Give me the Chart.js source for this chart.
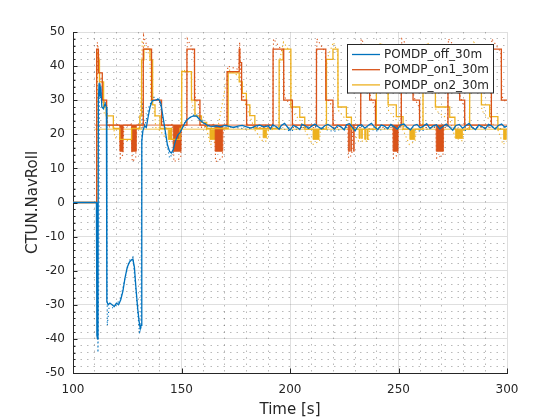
<!DOCTYPE html>
<html><head><meta charset="utf-8">
<script src="https://cdn.jsdelivr.net/npm/chart.js@4.4.1/dist/chart.umd.min.js"></script>
<style>html,body{margin:0;padding:0;background:#fff;}#wrap{width:560px;height:420px;}</style>
</head><body><div id="wrap"><canvas id="c" width="560" height="420"></canvas></div>
<script>
// ---- labels / ticks ----
const seriesNames = ['POMDP_off_30m', 'POMDP_on1_30m', 'POMDP_on2_30m'];
const xTickLabels = [100, 150, 200, 250, 300];
const yTickLabels = [-50, -40, -30, -20, -10, 0, 10, 20, 30, 40, 50];
const xTitle = 'Time [s]';
const yTitle = 'CTUN.NavRoll';

// ---- POMDP_off_30m NavRoll (solid) [t, value] ----
const offRoll = [[100,0],[110.8,0],[111.0,-39],[111.3,-40],[111.5,-37],[111.7,30],[112.0,35],[112.4,31],[112.8,34],[113.3,28],[114.0,27.5],[114.8,29],[115.4,28],[115.6,-29],[116.2,-30],[117,-29.5],[118,-30],[119,-30.5],[120,-29.5],[121,-30],[122,-28.5],[123,-26],[124,-22],[125,-19],[126,-17.5],[127,-16.8],[127.6,-16.6],[128.3,-19],[129,-25],[129.8,-31],[130.5,-35],[131,-37],[131.4,-36],[131.7,18],[132.2,21],[133,22.5],[133.8,22],[134.6,25],[135.5,28],[136.5,29.8],[138,30],[139.5,30.3],[140.5,29],[141.5,25],[142.5,21],[143.5,17],[144.5,15],[145.3,14.5],[146.2,15.5],[147.2,18],[148.3,19.8],[149.3,20.5],[150.5,22],[151.5,23.3],[152.5,24.2],[154,25],[155.5,25.4],[157,25.3],[158.5,24.2],[160,23.4],[161.5,22.8],[163,22.4],[164.5,22.3],
[166,22.5],[168,22.2],[170,22.6],[172,22.3],[174,22.0],[176,22.4],[178,22.6],[180,22.2],[182,21.8],[184,22.4],[186,22.7],[188,22.2],[190,22.5],[191,21.6],[192,22.8],[193.5,22.3],[195,21.5],[196,22.6],[197.5,23.2],[199,22.0],[200,21.2],[201.5,22.6],[203,22.2],[204.5,21.4],[205.5,22.9],[207,22.5],[208.5,21.7],[210,22.4],[211.5,23.0],[213,22.2],[214.5,21.6],[216,22.5],[217.5,22.9],[219,22.3],[220.5,21.5],[222,22.6],[223.5,22.2],[225,21.3],[226,22.8],[227.5,23.1],[229,21.9],[230,21.0],[231.5,22.5],[233,22.8],[234.5,21.8],[236,22.6],[237.5,23.2],[239,22.1],[240.5,21.4],[242,22.7],[243.5,22.4],[245,21.6],[246.5,22.9],[248,22.2],[249.5,21.5],[251,22.8],[252.5,23.0],[254,22.0],[255.5,21.3],[257,22.6],[258.5,22.9],[260,21.9],[261.5,22.4],[263,23.1],[264.5,21.7],[266,22.5],[267.5,22.8],[269,21.6],[270.5,22.3],[272,23.0],[273.5,22.1],[275,21.2],[276.5,22.6],[278,22.9],[279.5,21.8],[281,22.5],[282.5,23.2],[284,22.0],[285.5,21.4],[287,22.7],[288.5,22.3],[290,21.6],[291.5,22.9],[293,22.4],[294.5,21.5],[296,22.6],[297.5,23.0],[299,22.1],[300,22.4]];

// ---- POMDP_on1_30m NavRoll (solid, held steps) ----
const on1Roll = [[100,0],[110.9,45],[111.7,38],[113.5,30],[115.5,22.7],[132.4,45],[136.2,30],[140.8,22.7],[152.5,45],[156,30],[158.5,22.7],[171,38.4],[176.6,45],[176.9,41],[177.7,30],[180,22.7],[192.2,45],[197.1,30],[201.1,22.7],[212.2,45],[216.5,30],[219.8,22.7],[232.6,45],[236.7,30],[239.4,22.7],[251.3,45],[256.7,30],[259.7,22.7],[272.8,45],[278.2,30],[280.5,22.7],[292.8,45],[297.4,30],[300,30]];
// on1 fast oscillation bands (dip to 15 from 22.7)
const on1Osc = [[110,22.7],[121.6,15],[123.1,22.7],[127.0,15],[129.2,22.7],[146.2,15],[149.8,22.7],[165.5,15],[169.0,22.7],[226.9,15],[227.5,22.7],[228.0,15],[228.4,22.7],[229.3,15],[229.6,22.7],[247.5,15],[249.8,22.7],[267.4,15],[270.7,22.7],[300,22.7]];

// ---- POMDP_on2_30m NavRoll (solid, held steps) ----
const on2Roll = [[100,0],[110.9,44],[111.7,41.8],[112.2,35.4],[114.1,28],[115.3,25.4],[118.6,21.7],[121.6,18.5],[127,21.7],[130.8,25.4],[131.6,41.8],[132.7,45],[135.5,41.8],[136.7,28.6],[137.8,25.4],[140.1,21.7],[145.4,18.5],[149.3,21.7],[150.1,38.4],[154.6,30],[156.2,25.4],[159.2,23.5],[161.6,21.7],[171.5,38],[176.6,35.4],[178,32],[179.9,28.6],[181.5,25.5],[183.8,21.7],[195,41.8],[196.8,45],[200.4,28],[204.5,25],[206.8,21.5],[216.8,42],[219.8,45],[222.1,28],[226,25],[228.3,21.5],[239.8,42],[241.5,45],[245.2,28.6],[249,25.2],[252.1,21.5],[261.3,42],[263,45],[267,28],[273.6,25],[276,21.5],[282.8,42],[284.5,45],[288.2,28.6],[292,25.2],[295.8,21.5],[300,21.5]];
// on2 fast oscillation bands (dip to ~18.5 from 21.5)
const on2Osc = [[110,21.5],[143.9,18.5],[145.4,21.5],[163.1,18.5],[166.2,21.5],[187.6,19],[189.2,21.5],[210.6,18.5],[213.4,21.5],[231.8,18.8],[232.4,21.5],[232.9,18.8],[233.4,21.5],[234.4,18.5],[235.0,21.5],[235.5,18.5],[236.0,21.5],[255.2,18.5],[257.5,21.5],[276.3,18.8],[279.5,21.5],[298.4,18.5],[299.7,21.5],[300,21.5]];

// ---- dotted companion traces ----
const offDot = [[100,0],[111.1,0],[111.5,-44],[111.9,-20],[112.2,36],[112.8,30],[115.4,29],[115.8,-36],[116.6,-31],[118,-31],[120,-30],[122,-28],[124,-22],[126,-17],[127.6,-16],[129,-26],[130.6,-38],[131.3,-37],[131.8,30],[133,22],[135,28],[137,31],[140,30],[142,22],[144.5,13],[146.5,15],[149,20],[152,24],[156.5,26],[160,24],[163,21.5],[170,22.5],[180,21.5],[190,22.8],[200,21],[210,22.6],[220,20.8],[230,22.9],[240,21],[250,22.7],[260,20.9],[270,22.8],[280,21],[290,22.6],[300,21.2]];
const on1Dot = [[100,0],[110.9,0],[111.2,47],[111.9,44],[112.3,37],[113.4,36],[113.8,29],[115.4,30],[115.8,22],[121.4,23],[121.8,13],[123.0,14],[123.4,22],[126.9,23],[127.3,12],[128.9,13],[129.4,22],[132.2,22],[132.5,49],[133.4,47],[136.0,44],[136.5,31],[140.6,29],[141.1,22],[146.0,23],[146.5,12],[149.6,13],[150.1,22],[152.3,23],[152.7,48],[155.8,44],[156.3,31],[158.3,28],[158.8,22],[165.3,23],[165.7,12],[168.8,13],[169.3,22],[170.9,22],[171.3,40],[176.4,39],[176.8,47],[177.5,33],[179.8,29],[180.3,22],[192.0,22],[192.4,48],[196.9,44],[197.4,31],[200.9,28],[201.4,22],[212.0,22],[212.4,48],[216.3,44],[216.8,31],[219.6,28],[220.1,22],[226.6,22],[227.0,13],[228.5,14],[228.9,22],[232.4,22],[232.8,48],[236.5,44],[237.0,31],[239.2,28],[239.7,22],[247.3,22],[247.7,13],[249.6,14],[250.0,22],[251.1,22],[251.5,48],[256.5,44],[257.0,31],[259.5,28],[260.0,22],[267.2,22],[267.6,13],[270.5,14],[270.9,22],[272.6,22],[273.0,48],[278.0,44],[278.5,31],[280.3,28],[280.8,22],[292.6,22],[293.0,48],[297.2,44],[297.7,31],[300,29]];
const on2Dot = [[100,0],[111.0,0],[111.3,46],[112.0,42],[112.4,34],[114.0,30],[114.4,26],[115.6,26],[116.0,23],[118.8,22],[119.2,19],[126.8,18],[127.3,22],[130.9,23],[131.3,30],[131.9,47],[132.9,46],[135.4,43],[135.9,30],[137.7,26],[138.1,22],[140.3,21],[143.6,18],[149.0,17],[149.6,22],[150.3,39],[154.4,38],[154.8,29],[156.4,26],[159.4,24],[161.8,21],[163.3,17],[166.0,18],[166.5,21],[171.7,39],[176.4,37],[178.2,31],[181.7,25],[184.0,21],[187.4,18],[189.4,18],[189.8,21],[194.8,22],[195.3,42],[197.0,47],[200.2,44],[200.6,27],[204.7,24],[207.0,21],[210.4,17],[213.6,18],[214.0,21],[216.6,22],[217.0,42],[220.0,47],[221.9,44],[222.3,27],[226.2,24],[228.5,21],[231.6,18],[236.2,18],[236.6,21],[239.6,22],[240.0,43],[241.7,47],[245.0,44],[245.4,27],[249.2,24],[252.3,21],[255.0,17],[257.7,18],[258.1,21],[261.1,22],[261.5,43],[263.2,47],[266.8,44],[267.2,27],[273.8,24],[276.1,19],[279.7,18],[280.1,21],[282.6,22],[283.0,43],[284.7,47],[288.0,44],[288.4,27],[292.2,24],[296.0,21],[298.2,17],[300,18]];

// ---- styling ----
const BLUE = '#0072BD', RED = '#D95319', YEL = '#EDB120';
const FONT = 'DejaVu Sans';
const TXT = '#262626';
const toPts = a => a.map(p => ({x: p[0], y: p[1]}));

const solid = (label, arr, color, stepped) => ({label, data: toPts(arr), borderColor: color, backgroundColor: color, borderWidth: 1.3, pointRadius: 0, stepped: stepped, tension: 0, fill: false});
const dotted = (arr, color) => ({label: '', data: toPts(arr), borderColor: color, borderWidth: 1.1, borderDash: [1.2, 2.8], pointRadius: 0, tension: 0, fill: false});
const band = (arr, color, base) => ({label: '', data: toPts(arr), borderColor: color, borderWidth: 0.8, backgroundColor: color, pointRadius: 0, stepped: true, fill: {value: base}});

const legendPlugin = {
  id: 'boxLegend',
  afterDraw(chart) {
    const ctx = chart.ctx;
    const x0 = 347.5, y0 = 44.5, w = 146, h = 48.5;
    ctx.save();
    ctx.fillStyle = '#fff';
    ctx.fillRect(x0, y0, w, h);
    ctx.strokeStyle = TXT; ctx.lineWidth = 1;
    ctx.strokeRect(x0, y0, w, h);
    ctx.font = '12px "' + FONT + '"';
    ctx.textBaseline = 'middle'; ctx.textAlign = 'left';
    for (let i = 0; i < 3; i++) {
      const ds = chart.data.datasets[i];
      const y = 54.5 + i * 15.2;
      ctx.strokeStyle = ds.borderColor; ctx.lineWidth = 1.3;
      ctx.beginPath(); ctx.moveTo(352, y); ctx.lineTo(380, y); ctx.stroke();
      ctx.fillStyle = TXT;
      ctx.fillText(ds.label, 384, y + 0.5);
    }
    ctx.restore();
  }
};

const innerTicks = {
  id: 'innerTicks',
  afterDraw(chart) {
    const ctx = chart.ctx, xs = chart.scales.x, ys = chart.scales.y;
    const a = chart.chartArea;
    ctx.save();
    ctx.strokeStyle = TXT; ctx.lineWidth = 1;
    ctx.beginPath();
    ys.ticks.forEach(t => {
      const y = Math.round(ys.getPixelForValue(t.value)) + 0.5;
      const len = yTickLabels.includes(t.value) ? 4.5 : 2.5;
      ctx.moveTo(a.left, y); ctx.lineTo(a.left + len, y);
    });
    xs.ticks.forEach(t => {
      if (!xTickLabels.includes(t.value)) return;
      const x = Math.round(xs.getPixelForValue(t.value)) + 0.5;
      ctx.moveTo(x, a.bottom); ctx.lineTo(x, a.bottom - 4.5);
    });
    ctx.stroke();
    ctx.restore();
  }
};

new Chart(document.getElementById('c'), {
  type: 'line',
  data: {
    datasets: [
      solid(seriesNames[0], offRoll, BLUE, false),
      solid(seriesNames[1], on1Roll, RED, true),
      solid(seriesNames[2], on2Roll, YEL, true),
      band(on1Osc, RED, 22.7),
      band(on2Osc, YEL, 21.5),
      dotted(offDot, BLUE),
      dotted(on1Dot, RED),
      dotted(on2Dot, YEL)
    ]
  },
  options: {
    responsive: false,
    animation: false,
    devicePixelRatio: 1,
    layout: {padding: {left: 0, top: 32, right: 53, bottom: 0}},
    plugins: {legend: {display: false}, tooltip: {enabled: false}},
    scales: {
      x: {
        type: 'linear', min: 100, max: 300,
        afterFit: s => { s.height = 47; },
        ticks: {stepSize: 10, autoSkip: false, maxRotation: 0, padding: 10, color: TXT, font: {family: FONT, size: 12},
          callback: v => xTickLabels.includes(v) ? String(v) : ''},
        grid: {drawTicks: false, lineWidth: 1,
          color: c => (c.tick && xTickLabels.includes(c.tick.value)) ? 'rgba(38,38,38,0.15)' : 'rgba(38,38,38,0.32)'},
        border: {display: true, color: TXT, width: 1,
          dash: c => (c.tick && !xTickLabels.includes(c.tick.value)) ? [1.5, 5] : []},
        title: {display: true, text: xTitle, color: TXT, font: {family: FONT, size: 15}, padding: {top: 0, bottom: 1}}
      },
      y: {
        type: 'linear', min: -50, max: 50,
        afterFit: s => { s.width = 73; },
        ticks: {stepSize: 2, autoSkip: false, padding: 8, color: TXT, font: {family: FONT, size: 12},
          callback: v => yTickLabels.includes(v) ? String(v) : ''},
        grid: {drawTicks: false, lineWidth: 1,
          color: c => (c.tick && yTickLabels.includes(c.tick.value)) ? 'rgba(38,38,38,0.15)' : 'rgba(38,38,38,0.32)'},
        border: {display: true, color: TXT, width: 1,
          dash: c => (c.tick && !yTickLabels.includes(c.tick.value)) ? [1.5, 5] : []},
        title: {display: true, text: yTitle, color: TXT, font: {family: FONT, size: 15}, padding: {top: 24, bottom: 0}}
      }
    }
  },
  plugins: [innerTicks, legendPlugin]
});
</script></body></html>
